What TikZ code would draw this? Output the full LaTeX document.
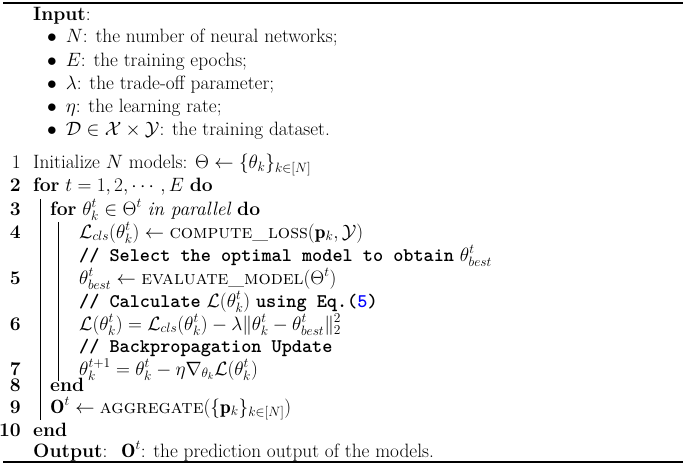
\documentclass[tikz,border=0pt]{standalone}
\usepackage{fix-cm}
\usepackage{amsmath,amssymb}
\usepackage{fontspec}
\usepackage{xcolor}
\begin{document}
\begin{tikzpicture}[x=1pt,y=-1pt,
  txt/.style={anchor=base west,inner sep=0pt,font=\fontsize{19.3}{22}\selectfont},
  num/.style={anchor=base east,inner sep=0pt,font=\fontsize{19.3}{22}\selectfont\bfseries},
  rule/.style={line width=1.3pt},
  bar/.style={line width=0.7pt}]
\useasboundingbox (0,0) rectangle (685,465);
\newcommand{\cm}[1]{\texttt{\bfseries #1}}
\draw[rule] (3,3) -- (683,3);
\draw[rule] (3,462) -- (683,462);
\node[txt] (in) at (33,21) {\textbf{Input}:};
\node[txt] (b1) at (47,43) {$\bullet$\hspace{9pt}$N$: the number of neural networks;};
\node[txt] (b2) at (47,67) {$\bullet$\hspace{9pt}$E$: the training epochs;};
\node[txt] (b3) at (47,90) {$\bullet$\hspace{9pt}$\lambda$: the trade-off parameter;};
\node[txt] (b4) at (47,113) {$\bullet$\hspace{9pt}$\eta$: the learning rate;};
\node[txt] (b5) at (47,136) {$\bullet$\hspace{9pt}$\mathcal{D}\in\mathcal{X}\times\mathcal{Y}$: the training dataset.};
\node[num] (n1) at (21,169) {\mdseries 1};
\node[txt] (l1) at (33,169) {Initialize $N$ models: $\Theta\leftarrow\{\theta_k\}_{k\in[N]}$};
\node[num] (n2) at (21,192) {2};
\node[txt] (l2) at (33,192) {\textbf{for} $t=1,2,\cdots,E$ \textbf{do}};
\node[num] (n3) at (21,215) {3};
\node[txt] (l3) at (50,215) {\textbf{for} $\theta_k^t\in\Theta^t$ \textit{in parallel} \textbf{do}};
\node[num] (n4) at (21,238) {4};
\node[txt] (l4) at (79,238) {$\mathcal{L}_{cls}(\theta_k^t)\leftarrow\textsc{compute\_loss}(\mathbf{p}_k,\mathcal{Y})$};
\node[txt] (c1) at (79,261) {\cm{// Select the optimal model to obtain} $\theta^t_{best}$};
\node[num] (n5) at (21,284) {5};
\node[txt] (l5) at (79,284) {$\theta^t_{best}\leftarrow\textsc{evaluate\_model}(\Theta^t)$};
\node[txt] (c2) at (79,307) {\cm{// Calculate} $\mathcal{L}(\theta_k^t)$ \cm{using Eq.(}\textcolor{blue}{\texttt{\bfseries 5}}\cm{)}};
\node[num] (n6) at (21,330) {6};
\node[txt] (l6) at (79,330) {$\mathcal{L}(\theta_k^t)=\mathcal{L}_{cls}(\theta_k^t)-\lambda\|\theta_k^t-\theta^t_{best}\|_2^2$};
\node[txt] (c3) at (79,352) {\cm{// Backpropagation Update}};
\node[num] (n7) at (21,375) {7};
\node[txt] (l7) at (79,375) {$\theta_k^{t+1}=\theta_k^t-\eta\nabla_{\theta_k}\mathcal{L}(\theta_k^t)$};
\node[num] (n8) at (21,391) {8};
\node[txt] (l8) at (50,391) {\textbf{end}};
\node[num] (n9) at (21,413) {9};
\node[txt] (l9) at (50,413) {$\mathbf{O}^t\leftarrow\textsc{aggregate}(\{\mathbf{p}_k\}_{k\in[N]})$};
\node[num] (n10) at (21,436) {10};
\node[txt] (l10) at (33,436) {\textbf{end}};
\node[txt] (out) at (33,457) {\textbf{Output}: \ $\mathbf{O}^t$: the prediction output of the models.};
\draw[bar] (40,199) coordinate (a1) -- (40,420) coordinate (a2);
\draw[bar] (58,222) coordinate (b1a) -- (58,381) coordinate (b2a);
\end{tikzpicture}
\end{document}
